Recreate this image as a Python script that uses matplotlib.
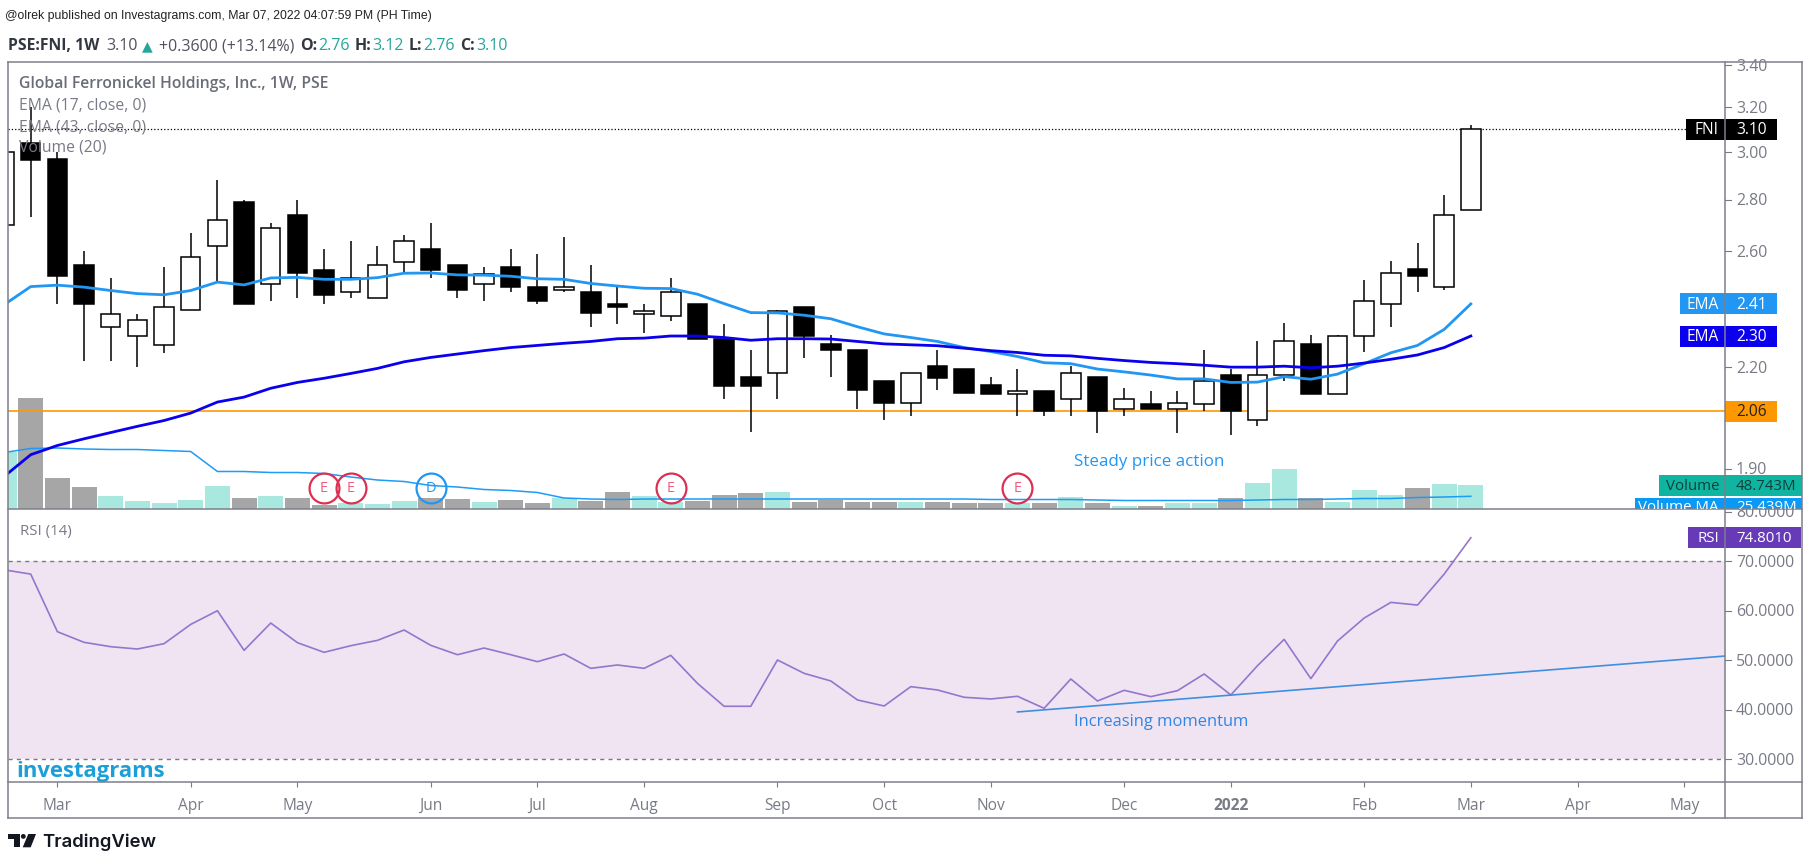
import matplotlib
matplotlib.use('Agg')
import matplotlib.pyplot as plt
from matplotlib.lines import Line2D
from matplotlib.patches import Rectangle, Polygon, Ellipse
from matplotlib.transforms import Bbox, ScaledTranslation

plt.rcParams['font.family'] = ['Open Sans', 'DejaVu Sans']

W, H = 1811, 865

# weekly candles, FNI
opens = [2.70, 3.04, 2.97, 2.55, 2.33, 2.30, 2.27, 2.39, 2.62, 2.79, 2.48, 2.74, 2.53, 2.45,
         2.43, 2.56, 2.61, 2.55, 2.48, 2.54, 2.47, 2.46, 2.45, 2.41, 2.375, 2.37, 2.41, 2.29,
         2.17, 2.18, 2.40, 2.275, 2.255, 2.155, 2.09, 2.205, 2.195, 2.145, 2.115, 2.125, 2.10,
         2.17, 2.07, 2.085, 2.07, 2.085, 2.175, 2.04, 2.175, 2.275, 2.115, 2.30, 2.41, 2.535,
         2.47, 2.76]
highs = [3.00, 3.20, 3.00, 2.60, 2.50, 2.375, 2.54, 2.67, 2.88, 2.80, 2.71, 2.80, 2.61, 2.64,
         2.62, 2.66, 2.71, 2.55, 2.54, 2.61, 2.59, 2.655, 2.55, 2.47, 2.41, 2.50, 2.41, 2.34,
         2.255, 2.39, 2.40, 2.305, 2.255, 2.155, 2.18, 2.255, 2.195, 2.17, 2.195, 2.125, 2.205,
         2.17, 2.135, 2.125, 2.125, 2.255, 2.195, 2.285, 2.345, 2.305, 2.305, 2.495, 2.565, 2.63,
         2.82, 3.12]
lows = [2.70, 2.73, 2.41, 2.22, 2.22, 2.20, 2.245, 2.39, 2.49, 2.41, 2.42, 2.43, 2.41, 2.43,
        2.43, 2.52, 2.50, 2.43, 2.42, 2.45, 2.41, 2.45, 2.33, 2.34, 2.31, 2.35, 2.29, 2.10,
        2.005, 2.10, 2.23, 2.17, 2.07, 2.04, 2.05, 2.13, 2.12, 2.115, 2.05, 2.05, 2.05,
        2.00, 2.05, 2.07, 2.00, 2.065, 1.995, 2.02, 2.155, 2.115, 2.115, 2.25, 2.33, 2.45,
        2.46, 2.76]
closes = [3.00, 2.965, 2.51, 2.41, 2.375, 2.355, 2.40, 2.58, 2.72, 2.41, 2.69, 2.52, 2.44, 2.50,
          2.55, 2.64, 2.53, 2.46, 2.515, 2.47, 2.42, 2.47, 2.38, 2.40, 2.385, 2.45, 2.29, 2.14,
          2.14, 2.385, 2.30, 2.255, 2.13, 2.09, 2.18, 2.165, 2.12, 2.115, 2.125, 2.065, 2.18,
          2.065, 2.10, 2.07, 2.09, 2.155, 2.065, 2.175, 2.285, 2.115, 2.30, 2.42, 2.52, 2.51,
          2.74, 3.10]

ema17 = [2.407, 2.471, 2.476, 2.469, 2.457, 2.446, 2.442, 2.457, 2.487, 2.477, 2.502, 2.504, 2.497,
         2.497, 2.503, 2.519, 2.520, 2.513, 2.512, 2.508, 2.499, 2.497, 2.482, 2.473, 2.465, 2.464,
         2.444, 2.411, 2.380, 2.379, 2.371, 2.359, 2.332, 2.308, 2.296, 2.283, 2.263, 2.250, 2.234,
         2.214, 2.211, 2.194, 2.185, 2.175, 2.163, 2.163, 2.152, 2.153, 2.170, 2.162, 2.178, 2.211,
         2.246, 2.270, 2.323, 2.410]
ema43 = [1.879, 1.939, 1.965, 1.984, 2.002, 2.020, 2.037, 2.059, 2.092, 2.107, 2.134, 2.152, 2.165,
         2.180, 2.196, 2.217, 2.231, 2.242, 2.253, 2.263, 2.270, 2.277, 2.283, 2.292, 2.294, 2.301,
         2.301, 2.296, 2.287, 2.292, 2.292, 2.291, 2.283, 2.275, 2.272, 2.269, 2.261, 2.253, 2.247,
         2.238, 2.236, 2.228, 2.221, 2.215, 2.211, 2.206, 2.200, 2.200, 2.203, 2.198, 2.203, 2.213,
         2.225, 2.239, 2.263, 2.301]

# volume in millions
volume = [115, 223, 63, 45, 27, 17, 13, 19, 47, 23, 27, 23, 9, 13, 11, 17, 23, 21, 15, 19, 13, 23, 17,
          35, 27, 15, 17, 29, 33, 35, 15, 19, 15, 15, 15, 15, 13, 13, 13, 13, 25, 13, 7, 7, 13,
          13, 23, 53, 81, 23, 15, 39, 29, 43, 51, 48.743]
volume_ma = [113, 121, 122, 120, 119, 119, 117, 115, 75, 75, 73, 73, 71, 64, 58, 55, 47, 44, 39, 37, 33,
             22, 20, 19, 20, 20, 20, 20, 20, 20, 20, 20, 20, 20, 20, 20, 20, 19, 19, 19, 19, 18, 17,
             17, 17, 17, 17, 18, 19, 19, 20, 21, 21, 23, 24, 25.439]

rsi = [68.3, 67.44, 55.79, 53.64, 52.76, 52.29, 53.37, 57.27, 60.03, 52.02, 57.54, 53.57, 51.62, 52.96,
       54.04, 56.13, 53.03, 51.14, 52.49, 51.14, 49.73, 51.28, 48.38, 49.06, 48.38, 51.01, 45.35, 40.71,
       40.71, 50.07, 47.37, 45.83, 41.99, 40.77, 44.68, 44.01, 42.53, 42.19, 42.73, 40.30, 46.23, 41.78,
       43.94, 42.66, 43.87, 47.24, 43.00, 48.92, 54.24, 46.30, 53.91, 58.55, 61.72, 61.18, 67.44, 74.80]

month_ticks = [2, 7, 11, 16, 20, 24, 29, 33, 37, 42, 46, 51, 55, 59, 63]
month_labels = ['Mar', 'Apr', 'May', 'Jun', 'Jul', 'Aug', 'Sep', 'Oct', 'Nov', 'Dec', '2022', 'Feb', 'Mar', 'Apr', 'May']
price_ticks = [3.40, 3.20, 3.00, 2.80, 2.60, 2.20, 1.90]
rsi_ticks = [80, 70, 60, 50, 40, 30]

support_level = 2.064
last_price = 3.10
events_x = [12, 13, 16, 25, 38]
events_label = ['E', 'E', 'D', 'E', 'E']
trend_x = [38, 64.53]
trend_y = [39.56, 50.87]

TEAL = '#26a69a'
GREY = '#787b86'
BLUE = '#2196f3'
DARK = '#0a00ee'
PURPLE = '#673ab7'
PANE_W = 1717


def fx(x):
    return x / W


def fy(y):
    return 1 - y / H


def pane(left, top, right, bottom):
    return fig.add_axes([fx(left), fy(bottom), (right - left) / W, (bottom - top) / H])


def txt(x, y, s, size, color, weight='normal', ha='left', **kw):
    return fig.text(fx(x), fy(y + 1), s, fontsize=size * 0.72, color=color, fontweight=weight,
                    ha=ha, va='center', zorder=7, **kw)


def box(left, top, right, bottom, color):
    fig.add_artist(Rectangle((fx(left), fy(bottom)), (right - left) / W, (bottom - top) / H,
                             transform=fig.transFigure, facecolor=color, edgecolor='none', zorder=5))


def rule(x0, y0, x1, y1):
    fig.add_artist(Line2D([fx(x0), fx(x1)], [fy(y0), fy(y1)], color='#7d7f8a', lw=1.1,
                          transform=fig.transFigure, zorder=6))


def right_ticks(a, ticks, labels):
    # tick marks and labels right of the pane, placed through the pane's y scale
    a.set_yticks([])
    a.minorticks_off()
    tr = a.get_yaxis_transform()
    down = tr + ScaledTranslation(0, -0.015, fig.dpi_scale_trans)
    out = []
    for v, lab in zip(ticks, labels):
        a.plot([1, 1 + 6 / PANE_W], [v, v], color=GREY, lw=0.8, transform=tr, clip_on=False)
        out.append(a.text(1 + 11 / PANE_W, v, lab, color=GREY, fontsize=11.4, ha='left', va='center',
                          transform=down, clip_on=False))
    return out


fig = plt.figure(figsize=(W / 100, H / 100), dpi=100, facecolor='white')

# panes
ax_vol = pane(8, 62, 1725, 509)
ax = pane(8, 62, 1725, 509)
ax_rsi = pane(8, 509, 1725, 782)
ax_vol.set_zorder(1)
ax.set_zorder(2)
ax_rsi.set_zorder(2)
ax.patch.set_visible(False)
ax_rsi.patch.set_visible(False)

xs = list(range(len(closes)))
xlim = (0.148, 64.53)

# volume
vol_colors = ['#a9e8df' if c >= o else '#a6a6a6' for o, c in zip(opens, closes)]
ax_vol.bar(xs, volume, width=0.94, color=vol_colors, linewidth=0)
ax_vol.plot(xs, volume_ma, color='#1e9bf5', lw=1.1)
ax_vol.set_xlim(xlim)
ax_vol.set_ylim(0, 894)
ax_vol.axis('off')

# candles
ax.set_yscale('log')
ax.axhline(last_price, color='black', lw=0.9, ls=':', zorder=1)
ax.axhline(support_level, color='#ff9800', lw=1.2, zorder=1.5)
for i in xs:
    up = closes[i] >= opens[i]
    ax.vlines(i, lows[i], highs[i], color='black', lw=1.1, zorder=2)
    ax.bar(i, abs(closes[i] - opens[i]), bottom=min(opens[i], closes[i]), width=0.73,
           facecolor='white' if up else 'black', edgecolor='black', linewidth=1.1, zorder=3)
ax.plot(xs, ema17, color=BLUE, lw=2.0, zorder=4)
ax.plot(xs, ema43, color=DARK, lw=2.0, zorder=4)
ax.set_xlim(xlim)
ax.set_ylim(1.793, 3.416)
ax.set_xticks([])
right_ticks(ax, price_ticks, ['%.2f' % p for p in price_ticks])
ax.set_ylim(1.793, 3.416)
for s in ax.spines.values():
    s.set_visible(False)

# event circles sit on the volume bars
for x, lab in zip(events_x, events_label):
    c = '#2196f3' if lab == 'D' else '#dc2f52'
    ax_vol.plot([x], [42], marker='o', ms=21.5, mfc='none', mec=c, mew=1.6, clip_on=False, zorder=5)
    ax_vol.text(x, 42, lab, color='#2196f3' if lab == 'D' else '#ef5f7d', fontsize=10.5, ha='center', va='center', zorder=6)

# RSI
ax_rsi.axhspan(30, 70, color='#f0e4f2', lw=0, zorder=0)
ax_rsi.axhline(70, color=GREY, lw=1, ls=(0, (3, 3)), zorder=1)
ax_rsi.axhline(30, color=GREY, lw=1, ls=(0, (3, 3)), zorder=1)
ax_rsi.plot(xs, rsi, color='#9575cd', lw=1.2, zorder=2)
ax_rsi.plot(trend_x, trend_y, color='#3f8fe0', lw=1.2, zorder=2)
ax_rsi.set_xlim(xlim)
ax_rsi.set_ylim(25.4, 80.6)
rsi_labels = right_ticks(ax_rsi, rsi_ticks, ['%.4f' % v for v in rsi_ticks])
ax_rsi.set_ylim(25.4, 80.6)
ax_rsi.set_xticks(month_ticks)
ax_rsi.set_xticklabels(month_labels)
ax_rsi.tick_params(axis='x', length=3.6, width=0.8, color=GREY, labelcolor=GREY, labelsize=11.2, pad=8)
for lab in ax_rsi.get_xticklabels():
    if lab.get_text() == '2022':
        lab.set_fontweight('bold')
for s in ax_rsi.spines.values():
    s.set_visible(False)
# 80 label runs into the pane above
for lab in rsi_labels:
    lab.set_clip_on(True)
    lab.set_clip_box(Bbox.from_extents(0, 0, W, H - 509))

# frame
rule(8, 62, 1802, 62)
rule(8, 62, 8, 818)
rule(8, 818, 1802, 818)
rule(1802, 62, 1802, 818)
rule(1725, 62, 1725, 818)
rule(8, 509, 1802, 509)
rule(8, 782, 1802, 782)

# header
txt(5, 14.5, '@olrek published on Investagrams.com, Mar 07, 2022 04:07:59 PM (PH Time)', 12.2, '#222222',
    family=['Liberation Sans'])
hy = 45.5
txt(8.4, hy, 'PSE:FNI, 1W', 15.8, '#333740', 'bold')
txt(106, hy, '3.10', 16, '#50535e')
txt(142, hy, '▲', 14, TEAL)
txt(159, hy, '+0.3600 (+13.14%)', 16, '#50535e')
for x, s in zip([300, 355, 409, 460], ['O:', 'H:', 'L:', 'C:']):
    txt(x, hy, s, 16, '#333740', 'bold')
for x, s in zip([318, 372, 423, 476.5], ['2.76', '3.12', '2.76', '3.10']):
    txt(x, hy, s, 16, TEAL)

# legend
txt(19, 83, 'Global Ferronickel Holdings, Inc., 1W, PSE', 15.7, '#6a6d78', 'semibold')
txt(19, 105, 'EMA (17, close, 0)', 15.7, GREY)
txt(19, 126, 'EMA (43, close, 0)', 15.7, GREY)
txt(19, 147, 'Volume (20)', 15.7, GREY)
txt(19.5, 531, 'RSI (14)', 15, GREY)

# drawing notes
txt(1074, 461, 'Steady price action', 17, BLUE)
txt(1074, 720.5, 'Increasing momentum', 16.5, '#2f86e6')


# axis labels
def axis_label(y, top_h, name, value, color, left, right=1777, fg='white', size=15.5):
    box(left, y - top_h, right, y + top_h, color)
    if name:
        txt(1719, y, name, size, fg, ha='right')
    txt(1736, y, value, size, fg)


def price_y(p):
    return H - ax.transData.transform((0, p))[1]


axis_label(129.5, 10.5, 'FNI', '3.10', 'black', 1686)
axis_label(price_y(ema17[-1]), 10.5, 'EMA', '2.41', BLUE, 1680)
axis_label(price_y(ema43[-1]), 10.5, 'EMA', '2.30', DARK, 1680)
axis_label(price_y(support_level), 10.5, '', '2.06', '#ff9800', 1725, fg='#222222')
axis_label(485, 10.5, 'Volume', '48.743M', '#0fb5a0', 1659, 1802, fg='#0f3f3a', size=15)
box(1635, 498, 1802, 509, '#0a9af5')
vm_clip = Bbox.from_extents(0, H - 509, W, H - 498)
for t in [txt(1719, 506.7, 'Volume MA', 15, 'white', ha='right'), txt(1736, 506.7, '25.439M', 15, 'white')]:
    t.set_clip_on(True)
    t.set_clip_box(vm_clip)
axis_label(537.5, 10.5, 'RSI', '74.8010', PURPLE, 1688, 1801, size=15)

# logos
txt(16, 771, 'investagrams', 22, '#1c9fd8', 'bold')
txt(42, 841, 'TradingView', 18.5, '#131722', 'semibold', family=['Inter'])
LOGO = '#131722'
fig.add_artist(Polygon([(fx(8.3), fy(834)), (fx(20), fy(834)), (fx(20), fy(847.3)), (fx(14), fy(847.3)),
                        (fx(14), fy(838.5)), (fx(8.3), fy(838.5))], closed=True, transform=fig.transFigure,
                       facecolor=LOGO, edgecolor='none', zorder=7))
fig.add_artist(Ellipse((fx(23.3), fy(836.4)), 4.8 / W, 4.8 / H, transform=fig.transFigure,
                       facecolor=LOGO, edgecolor='none', zorder=7))
fig.add_artist(Polygon([(fx(28.3), fy(834)), (fx(36), fy(834)), (fx(30.7), fy(847.3)), (fx(22.7), fy(847.3))],
                       closed=True, transform=fig.transFigure, facecolor=LOGO, edgecolor='none', zorder=7))

fig.savefig('out.png', dpi=100)
